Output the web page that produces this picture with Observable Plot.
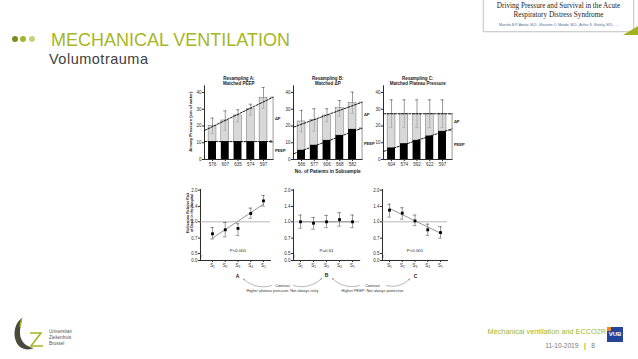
<!DOCTYPE html>
<html><head><meta charset="utf-8">
<script src="https://cdn.jsdelivr.net/npm/d3@7"></script>
<script src="https://cdn.jsdelivr.net/npm/@observablehq/plot@0.6"></script>
<style>
body{margin:0;background:#fff;}
#slide{position:relative;width:638px;height:359px;overflow:hidden;background:#fff;font-family:"Liberation Sans",Arial,sans-serif;}
.abs{position:absolute;white-space:nowrap;}
.abs svg{max-width:none;}
</style></head>
<body><div id="slide">
  <div class="abs" style="left:12px;top:35.5px;width:6px;height:6px;border-radius:50%;background:#7f8b22"></div>
  <div class="abs" style="left:20.3px;top:35.5px;width:6px;height:6px;border-radius:50%;background:#a6b628"></div>
  <div class="abs" style="left:28.7px;top:35.5px;width:6px;height:6px;border-radius:50%;background:#c8d17c"></div>
  <div class="abs" style="left:51px;top:32.4px;font-size:18px;line-height:16px;color:#a6b624">MECHANICAL VENTILATION</div>
  <div class="abs" style="left:49px;top:51.8px;font-size:14.5px;line-height:14px;letter-spacing:0.5px;color:#404040">Volumotrauma</div>

  <div class="abs" style="left:483px;top:-1px;width:149px;height:31px;border:0.7px solid #cfcfcf;box-shadow:0 0 1.5px #ccc;background:#fff;text-align:center;font-family:'Liberation Serif','DejaVu Serif',serif;color:#222">
    <div style="font-size:7.2px;line-height:9px;margin-top:1.5px">Driving Pressure and Survival in the Acute</div>
    <div style="font-size:7.2px;line-height:9px">Respiratory Distress Syndrome</div>
    <div style="font-size:3.4px;line-height:6px;margin-top:2px;color:#4d6a8c;font-family:'Liberation Sans',Arial,sans-serif">Marcelo B.P. Amato, M.D., Maureen O. Meade, M.D., Arthur S. Slutsky, M.D., ...</div>
  </div>
  <div class="abs" style="left:623px;top:26px;width:15px;height:9px;background:#a3b31f;clip-path:polygon(100% 0,100% 100%,0 100%)"></div>

  <svg class="abs" style="left:10px;top:316px" width="36" height="36" viewBox="0 0 36 36">
    <path d="M12 2 C3 8 2 24 10 31 C14 34 20 34 24 32 C16 31 10 25 10 17 C10 10 12 6 12 2 Z" fill="#4a4a3c"/>
    <path d="M12 2 C11 5 10 8 10 11" stroke="#a6b624" stroke-width="1.2" fill="none"/>
    <path d="M20 17 L31 17 L21 30 L33 30" stroke="#a6b624" stroke-width="1.6" fill="none"/>
  </svg>
  <div class="abs" style="left:49px;top:328.5px;font-size:4.6px;line-height:6px;color:#555">Universitair<br>Ziekenhuis<br>Brussel</div>

  <div class="abs" style="left:470px;top:328px;width:136px;text-align:right;font-size:7.3px;line-height:8px;color:#a6b624">Mechanical ventilation and ECCO2R</div>
  <div class="abs" style="left:470px;top:341.5px;width:125px;text-align:right;font-size:6.6px;line-height:8px;color:#7a7a7a">11-10-2019 &nbsp;&nbsp;<span style="color:#a6b624;font-weight:bold">|</span>&nbsp;&nbsp; 8</div>
  <div class="abs" style="left:607px;top:327px;width:16px;height:15px;background:#24449a;color:#fff;font-weight:bold;font-size:6px;line-height:15px;text-align:center">VUB</div>
  <div class="abs" style="left:607px;top:327px;width:4px;height:4px;background:#f08a1c"></div>
</div>
<script>
const FONT = "'Liberation Sans', Arial, Helvetica, sans-serif";
const NARROW = "'Liberation Sans Narrow', 'Arial Narrow', 'Liberation Sans', sans-serif";

// ---------- Top row: resampling bar charts (cm of water) ----------
const titlesTop = [["Resampling A:", "Matched PEEP"], ["Resampling B:", "Matched \u0394P"], ["Resampling C:", "Matched Plateau Pressure"]];
const patientsA = [576, 607, 635, 574, 597];
const patientsB = [566, 577, 606, 568, 582];
const patientsC = [604, 574, 592, 622, 597];
const peepA = [10.6, 10.6, 10.6, 10.6, 10.6];
const peepB = [5.4, 8.4, 11.3, 14.3, 17.9];
const peepC = [6.8, 9.4, 11.3, 13.9, 16.7];
const plateauA = [20, 23.3, 26.3, 30, 36.8];
const plateauB = [22.7, 23.7, 26.3, 30.6, 33.8];
const plateauC = [27.3, 27.3, 27.3, 27.3, 27.3];
const plateauHiA = [24.7, 29, 29.7, 33, 43];
const plateauHiB = [29.3, 30.3, 30.3, 35.2, 40.2];
const plateauHiC = [35.6, 35.6, 35.6, 35.6, 35.6];
const plateauLoA = [15.5, 17.5, 22.5, 26.5, 30.5];
const plateauLoB = [16.5, 17, 22.5, 26, 27.5];
const plateauLoC = [19, 19, 19, 19, 19];
const trendPlateauA = [17.3, 37.2], trendPeepA = [10.7, 10.7];
const trendPlateauB = [19.3, 34.2], trendPeepB = [3.4, 18.7];
const trendPlateauC = [27.3, 27.3], trendPeepC = [4.8, 18.3];
const bracketDpA = [11.3, 37.2], bracketPeepA = [0, 10.2];
const bracketDpB = [18.9, 34.2], bracketPeepB = [0, 18.4];
const bracketDpC = [17.6, 27.3], bracketPeepC = [0, 17.2];
const yTicksTop = [0, 10, 20, 30, 40];

// ---------- Bottom row: multivariate relative risk of death ----------
const strata = ["S\u2081", "S\u2082", "S\u2083", "S\u2084", "S\u2085"];
const rrA = [0.77, 0.84, 0.865, 1.2, 1.58];
const rrLoA = [0.687, 0.72, 0.74, 1.08, 1.41];
const rrHiA = [0.884, 0.985, 0.96, 1.35, 1.78];
const fitA = [0.70, 1.47];
const rrB = [1.0, 0.97, 1.0, 1.05, 1.0];
const rrLoB = [0.87, 0.85, 0.88, 0.91, 0.88];
const rrHiB = [1.16, 1.1, 1.15, 1.22, 1.16];
const fitB = [1.0, 1.0];
const rrC = [1.29, 1.21, 1.02, 0.84, 0.79];
const rrLoC = [1.11, 1.06, 0.92, 0.74, 0.70];
const rrHiC = [1.47, 1.36, 1.16, 0.95, 0.90];
const fitC = [1.34, 0.78];
const pValues = ["P<0.001", "P=0.61", "P<0.001"];
const rrTickLabels = [0.5, 0.7, 1.0, 1.4, 2.0];
const panelLetters = ["A", "B", "C"];
const contrastNotes = ["Higher plateau pressure: Not always risky", "Higher PEEP: Not always protective"];

const slide = document.getElementById("slide");
function place(node, left, top) {
  const d = document.createElement("div");
  d.className = "abs";
  d.style.left = left + "px"; d.style.top = top + "px";
  d.appendChild(node); slide.appendChild(d);
}
const baseStyle = {background: "transparent", overflow: "visible", fontFamily: FONT, fontSize: "4.5px", color: "#2a2a2a"};

function topPanel(c) {
  const step = 12.75, x0 = 0.37, xb = 5.75;
  const mL = 30, mR = 26, mT = 19.3, mB = 22, H = 115;
  const W = mL + (xb - x0) * step + mR;
  const rows = c.pts.map((n, k) => ({k: k + 1, peep: c.peep[k], plat: c.plat[k], hi: c.hi[k], lo: c.lo[k]}));
  const hw = 0.31;
  const trend = v => [{x: x0, y: v[0]}, {x: xb, y: v[1]}];
  const brs = [c.brDp, c.brPeep];
  const brEnds = [c.brDp[0], c.brDp[1], c.brPeep[0], c.brPeep[1]];
  const brLabels = [{t: "\u0394P", y: (c.brDp[0] + c.brDp[1]) / 2}, {t: "PEEP", y: (c.brPeep[0] + c.brPeep[1]) / 2}];
  const marks = [
    Plot.rectY(rows, {x1: d => d.k - hw, x2: d => d.k + hw, y1: "peep", y2: "plat", fill: "#d8d8d8", stroke: "#555", strokeWidth: 0.4}),
    Plot.ruleX(rows, {x: "k", y1: "lo", y2: "plat", stroke: "#8a8a8a", strokeWidth: 0.5}),
    Plot.ruleY(rows, {y: "lo", x1: d => d.k - 0.12, x2: d => d.k + 0.12, stroke: "#8a8a8a", strokeWidth: 0.5}),
    Plot.rectY(rows, {x1: d => d.k - hw, x2: d => d.k + hw, y1: () => 0, y2: "peep", fill: "#000"}),
    Plot.ruleX(rows, {x: "k", y1: "plat", y2: "hi", stroke: "#333", strokeWidth: 0.5}),
    Plot.ruleY(rows, {y: "hi", x1: d => d.k - 0.13, x2: d => d.k + 0.13, stroke: "#333", strokeWidth: 0.5}),
    Plot.line(trend(c.trendTop), {x: "x", y: "y", stroke: "#000", strokeWidth: 0.9, strokeDasharray: "2.2,1.4"}),
    Plot.line(trend(c.trendBot), {x: "x", y: "y", stroke: "#000", strokeWidth: 0.9, strokeDasharray: "2.2,1.4"}),
    Plot.ruleX(brs, {x: () => xb, y1: d => d[0], y2: d => d[1], stroke: "#333", strokeWidth: 0.5}),
    Plot.ruleY(brEnds, {y: d => d, x1: () => xb - 0.22, x2: () => xb, stroke: "#333", strokeWidth: 0.5}),
    Plot.text(brLabels, {x: () => xb, y: "y", text: "t", dx: 1.8, textAnchor: "start", fontSize: 4.1, fontWeight: "bold", fill: "#222", fontFamily: NARROW}),
    Plot.text([c.title.join("\n")], {frameAnchor: "top", text: d => d, textAnchor: "middle", lineAnchor: "bottom", dy: -1.2, lineHeight: 1.12, fontSize: 4.5, fontWeight: "bold", fill: "#222"})
  ];
  if (c.yLabel) marks.push(Plot.text([c.yLabel], {frameAnchor: "left", text: d => d, textAnchor: "middle", rotate: -90, dx: -13.5, dy: -1, fontSize: 4.2, fontWeight: "bold", fill: "#222"}));
  if (c.xLabel) marks.push(Plot.text([c.xLabel], {frameAnchor: "bottom", text: d => d, textAnchor: "middle", dy: 14, fontSize: 4.8, fontWeight: "bold", fill: "#222"}));
  const p = Plot.plot({
    width: W, height: H, marginLeft: mL, marginRight: mR, marginTop: mT, marginBottom: mB,
    style: baseStyle,
    x: {domain: [x0, xb], ticks: [1, 2, 3, 4, 5], tickFormat: i => c.pts[i - 1], tickSize: 2, tickPadding: 1.5, line: true, label: null},
    y: {domain: [0, 44], ticks: yTicksTop, tickSize: 2, tickPadding: 1, line: true, label: null},
    marks
  });
  place(p, c.axisPx - mL, 66);
}

topPanel({axisPx: 204, title: titlesTop[0], pts: patientsA, peep: peepA, plat: plateauA, hi: plateauHiA, lo: plateauLoA,
  trendTop: trendPlateauA, trendBot: trendPeepA, brDp: bracketDpA, brPeep: bracketPeepA, yLabel: "Airway Pressure (cm of water)"});
topPanel({axisPx: 292.5, title: titlesTop[1], pts: patientsB, peep: peepB, plat: plateauB, hi: plateauHiB, lo: plateauLoB,
  trendTop: trendPlateauB, trendBot: trendPeepB, brDp: bracketDpB, brPeep: bracketPeepB, xLabel: "No. of Patients in Subsample"});
topPanel({axisPx: 382.5, title: titlesTop[2], pts: patientsC, peep: peepC, plat: plateauC, hi: plateauHiC, lo: plateauLoC,
  trendTop: trendPlateauC, trendBot: trendPeepC, brDp: bracketDpC, brPeep: bracketPeepC});

function bottomPanel(c) {
  const L2 = Math.log2;
  const x0 = c.x0, xe = 5.55, step = c.step;
  const mL = 28, mR = 6, mT = 9, mB = 16, H = 96;
  const yMin = -1.22, yMax = 1.02;
  const W = mL + (xe - x0) * step + mR;
  const rows = c.rr.map((v, k) => ({k: k + 1, v: L2(v), lo: L2(c.lo[k]), hi: L2(c.hi[k])}));
  const fitPts = [{x: 1, y: L2(c.fit[0])}, {x: 5, y: L2(c.fit[1])}];
  const yt = [yMin, ...rrTickLabels.map(L2)];
  const marks = [
    Plot.ruleY([0], {x1: () => x0, x2: () => xe, stroke: "#999", strokeWidth: 0.7}),
    Plot.line(fitPts, {x: "x", y: "y", stroke: "#8a8a8a", strokeWidth: 0.9}),
    Plot.ruleX(rows, {x: "k", y1: "lo", y2: "hi", stroke: "#333", strokeWidth: 0.5}),
    Plot.ruleY(rows, {y: "lo", x1: d => d.k - 0.14, x2: d => d.k + 0.14, stroke: "#333", strokeWidth: 0.5}),
    Plot.ruleY(rows, {y: "hi", x1: d => d.k - 0.14, x2: d => d.k + 0.14, stroke: "#333", strokeWidth: 0.5}),
    Plot.dot(rows, {x: "k", y: "v", symbol: "square", r: 1.6, fill: "#000", stroke: null}),
    Plot.text([c.p], {x: () => 3, y: () => -0.92, text: d => d, fontSize: 4.4, fill: "#222"}),
    Plot.text(["//"], {x: () => x0, y: () => -1.1, text: d => d, fontSize: 3.6, fill: "#333", dx: 0.5})
  ];
  if (c.yLabel) marks.push(Plot.text([c.yLabel], {frameAnchor: "left", text: d => d, textAnchor: "middle", lineAnchor: "middle", rotate: -90, dx: -10.5, dy: -12, lineHeight: 1.2, fontSize: 3.4, fontWeight: "bold", fill: "#222", fontFamily: NARROW}));
  const p = Plot.plot({
    width: W, height: H, marginLeft: mL, marginRight: mR, marginTop: mT, marginBottom: mB,
    style: baseStyle,
    x: {domain: [x0, xe], ticks: [1, 2, 3, 4, 5], tickFormat: i => strata[i - 1], tickSize: 2, tickPadding: 1.5, line: true, label: null},
    y: {domain: [yMin, yMax], ticks: yt, tickFormat: v => v < -1.1 ? "0.0" : (2 ** v).toFixed(1), tickSize: 2, tickPadding: 1, line: true, label: null},
    marks
  });
  place(p, c.axisPx - mL, 180);
}

bottomPanel({axisPx: 200, x0: 0.06, step: 12.75, rr: rrA, lo: rrLoA, hi: rrHiA, fit: fitA, p: pValues[0],
  yLabel: "Multivariate Relative Risk\nof Death in the Hospital"});
bottomPanel({axisPx: 293, x0: 0.46, step: 13, rr: rrB, lo: rrLoB, hi: rrHiB, fit: fitB, p: pValues[1]});
bottomPanel({axisPx: 382, x0: 0.45, step: 12.75, rr: rrC, lo: rrLoC, hi: rrHiC, fit: fitC, p: pValues[2]});

// ---------- Annotation overlay (letters, contrast arrows) ----------
const letterPos = [[237, 275.5], [326, 274.5], [415, 275.5]];
const arrowsWest = [[271, 285, 243, 278.5], [359, 285, 332, 278]];
const arrowsEast = [[293, 285, 321, 278], [386, 285, 409, 278.5]];
const notePos = [[282, 285.5, 290.5], [372, 285.5, 290.5]];
const letters = panelLetters.map((t, i) => ({t, x: letterPos[i][0], y: letterPos[i][1]}));
const toArrow = a => ({x1: a[0], y1: a[1], x2: a[2], y2: a[3]});
const notes = [];
contrastNotes.forEach((t, i) => {
  notes.push({t: "Contrast", x: notePos[i][0], y: notePos[i][1]});
  notes.push({t, x: notePos[i][0], y: notePos[i][2]});
});
const arrowStyle = {x1: "x1", y1: "y1", x2: "x2", y2: "y2", stroke: "#666", strokeWidth: 0.5, strokeDasharray: "0.8,0.8", headLength: 3};
const overlay = Plot.plot({
  width: 638, height: 359, marginLeft: 0, marginRight: 0, marginTop: 0, marginBottom: 0,
  style: {background: "transparent", overflow: "visible", fontFamily: FONT},
  x: {domain: [0, 638], range: [0, 638], axis: null},
  y: {domain: [0, 359], range: [0, 359], axis: null},
  marks: [
    Plot.arrow(arrowsWest.map(toArrow), {...arrowStyle, bend: 30}),
    Plot.arrow(arrowsEast.map(toArrow), {...arrowStyle, bend: -30}),
    Plot.text(letters, {x: "x", y: "y", text: "t", fontSize: 5, fontWeight: "bold", fill: "#222"}),
    Plot.text(notes, {x: "x", y: "y", text: "t", fontSize: 3.9, fill: "#333"})
  ]
});
place(overlay, 0, 0);
</script>
</body></html>
